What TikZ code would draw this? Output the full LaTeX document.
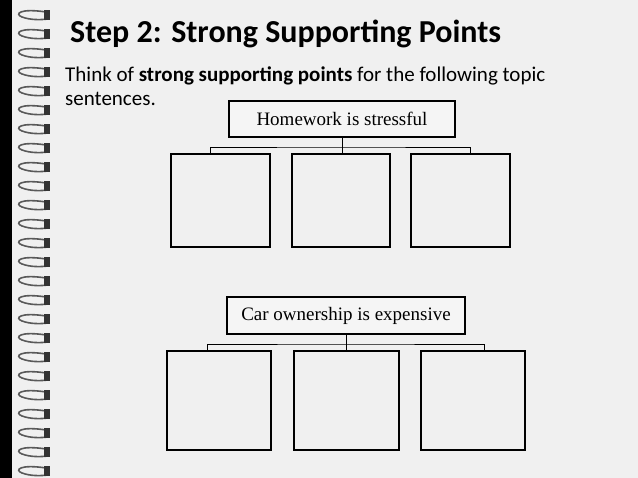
\documentclass[tikz,border=0pt]{standalone}
\usepackage{fontspec}
\setmainfont{Carlito}
\newfontfamily\slab{Liberation Serif}
\begin{document}
\begin{tikzpicture}[x=1pt,y=-1pt,
  hdr/.style={draw,line width=1.4pt,fill=gray!8,minimum height=36pt,font=\slab\fontsize{19}{22}\selectfont,inner sep=0pt},
  sq/.style={draw,line width=1.4pt,inner sep=0pt},
  conn/.style={line width=0.8pt}]
\fill[gray!12] (0,0) rectangle (638,478);
\useasboundingbox (0,0) rectangle (638,478);
\fill[black] (0,0) rectangle (12,478);
\foreach \y in {12,31,...,470}{
  \draw[gray!70!black,line width=1.6pt] (46,\y) .. controls (20,\y-4) and (14,\y+2) .. (22,\y+5) .. controls (30,\y+8) and (40,\y+8) .. (48,\y+7);
  \fill[black!80] (44,\y-2) rectangle (50,\y+8);
}
\node[anchor=base west,font=\bfseries\fontsize{32}{36}\selectfont,inner sep=0pt] (title) at (70,43) {Step 2: Strong Supporting Points};
\node[anchor=base west,font=\fontsize{21}{24}\selectfont,inner sep=0pt] (sub) at (65,82) {Think of \textbf{strong supporting points} for the following topic};
\node[anchor=base west,font=\fontsize{21}{24}\selectfont,inner sep=0pt] (sub2) at (65,106) {sentences.};
% top tree
\node[hdr,minimum width=226pt] (h1) at (342,119) {Homework is stressful};
\node[sq,minimum width=99pt,minimum height=93pt] (a1) at (220.5,200.5) {};
\node[sq,minimum width=98pt,minimum height=93pt] (a2) at (341,200.5) {};
\node[sq,minimum width=99pt,minimum height=93pt] (a3) at (460.5,200.5) {};
\coordinate (b1) at (342,147);
\draw[conn] (h1.south) -- (b1);
\draw[conn] (a1.north -| 210,0) |- (b1) -| (a3.north -| 470,0);
\draw[conn] (b1) -- (a2.north -| b1);
% bottom tree
\node[hdr,minimum width=238pt,minimum height=37pt] (h2) at (346,315.5) {Car ownership is expensive};
\node[sq,minimum width=104pt,minimum height=99pt] (c1) at (219,400.5) {};
\node[sq,minimum width=105pt,minimum height=99pt] (c2) at (346.5,400.5) {};
\node[sq,minimum width=104pt,minimum height=99pt] (c3) at (473,400.5) {};
\coordinate (b2) at (346,344);
\draw[conn] (h2.south) -- (b2);
\draw[conn] (c1.north -| 207,0) |- (b2) -| (c3.north -| 484,0);
\draw[conn] (b2) -- (c2.north -| b2);
\end{tikzpicture}
\end{document}
